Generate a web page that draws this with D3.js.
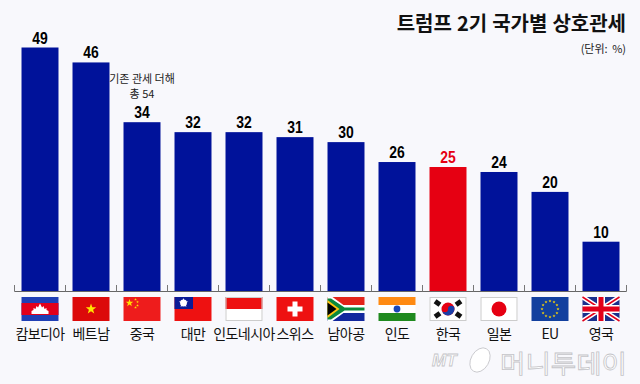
<!DOCTYPE html>
<html>
<head>
<meta charset="utf-8">
<script src="https://cdn.jsdelivr.net/npm/d3@7"></script>
<style>
  html, body { margin: 0; padding: 0; background: #f8f8fc; }
  svg { display: block; }
  text { font-family: "Noto Sans CJK KR", sans-serif; }
</style>
</head>
<body>
<div id="chart"></div>
<script>
// values
var countries = ["캄보디아", "베트남", "중국", "대만", "인도네시아", "스위스", "남아공", "인도", "한국", "일본", "EU", "영국"];
var tariffs = [49, 46, 34, 32, 32, 31, 30, 26, 25, 24, 20, 10];
var flagIds = ["kh", "vn", "cn", "tw", "id", "ch", "za", "in", "kr", "jp", "eu", "gb"];
var highlight = "한국";

var svg = d3.select("#chart").append("svg")
  .attr("width", 640)
  .attr("height", 384);

// scales
var x = d3.scaleBand()
  .domain(countries)
  .range([14.5, 626.5])
  .paddingInner(0.275)
  .paddingOuter(0.1375);
var y = d3.scaleLinear()
  .domain([0, 49])
  .range([291.5, 47.5]);

// Bars
svg.selectAll("rect.bar")
  .data(tariffs)
  .enter()
  .append("rect")
  .attr("class", "bar")
  .attr("x", function (d, i) { return x(countries[i]); })
  .attr("y", function (d) { return y(d); })
  .attr("width", x.bandwidth())
  .attr("height", function (d) { return y(0) - y(d); })
  .attr("fill", function (d, i) { return countries[i] == highlight ? "#e60012" : "#00129a"; });

// Axis with ticks between the bands
var step = x.step();
var axisTicks = d3.range(countries.length + 1).map(function (i) { return 14.5 + i * step; });
svg.append("line")
  .attr("x1", 14.5).attr("x2", 626.5)
  .attr("y1", 291.5).attr("y2", 291.5)
  .attr("stroke", "#666");
svg.selectAll("line.tick")
  .data(axisTicks)
  .enter()
  .append("line")
  .attr("class", "tick")
  .attr("x1", function (d) { return d; })
  .attr("x2", function (d) { return d; })
  .attr("y1", 285)
  .attr("y2", 291.5)
  .attr("stroke", "#777");

// Value labels
svg.selectAll("text.value")
  .data(tariffs)
  .enter()
  .append("text")
  .attr("class", "value")
  .attr("x", function (d, i) { return x(countries[i]) + x.bandwidth() / 2; })
  .attr("y", function (d) { return y(d) - 4; })
  .attr("text-anchor", "middle")
  .attr("textLength", 15.5)
  .attr("lengthAdjust", "spacingAndGlyphs")
  .style("font-family", "'Liberation Sans', sans-serif")
  .style("font-size", "17px")
  .style("font-weight", "bold")
  .attr("fill", function (d, i) { return countries[i] == highlight ? "#e60012" : "#000"; })
  .text(function (d) { return d; });

// Country labels
svg.selectAll("text.country")
  .data(countries)
  .enter()
  .append("text")
  .attr("class", "country")
  .attr("x", function (d) { return x(d) + x.bandwidth() / 2; })
  .attr("y", 338.5)
  .attr("text-anchor", "middle")
  .style("font-size", "14px")
  .style("letter-spacing", "-0.6px")
  .attr("fill", "#111")
  .text(function (d) { return d; });

// Flags
var fw = x.bandwidth(), fh = 24;
var flags = svg.selectAll("g.flag")
  .data(flagIds)
  .enter()
  .append("g")
  .attr("class", "flag")
  .attr("transform", function (d, i) { return "translate(" + x(countries[i]) + ",297)"; });

function box(g, yy, h, c) {
  g.append("rect").attr("x", 0).attr("y", yy).attr("width", fw).attr("height", h).attr("fill", c);
}
function star(g, cx, cy, r, c) {
  var pts = d3.range(10).map(function (i) {
    var rr = i % 2 ? r * 0.4 : r, a = -Math.PI / 2 + i * Math.PI / 5;
    return [cx + rr * Math.cos(a), cy + rr * Math.sin(a)].join(",");
  });
  g.append("polygon").attr("points", pts.join(" ")).attr("fill", c);
}
function outline(g) {
  g.append("rect").attr("x", 0.5).attr("y", 0.5).attr("width", fw - 1).attr("height", fh - 1).attr("fill", "none").attr("stroke", "#ccc");
}

var drawFlag = {
  kh: function (g) {
    box(g, 0, fh, "#1f3fb5");
    box(g, 6, 12, "#e2001a");
    g.append("path").attr("d", "M10 17V14L12 13V11L14 12L15 9L16.5 10.5L18.5 6.5L20.5 10.5L22 9L23 12L25 11V13L27 14V17Z").attr("fill", "#fff");
  },
  vn: function (g) {
    box(g, 0, fh, "#dc0a0a");
    star(g, 18.5, 12, 5.5, "#ffe600");
  },
  cn: function (g) {
    box(g, 0, fh, "#ee1c1c");
    star(g, 6, 6, 4, "#ffe000");
    [[12, 2.5], [14, 5], [14, 8.5], [12, 10.5]].forEach(function (p) { star(g, p[0], p[1], 1.4, "#ffe000"); });
  },
  tw: function (g) {
    box(g, 0, fh, "#ee1111");
    g.append("rect").attr("width", 18.5).attr("height", 12).attr("fill", "#0a1a96");
    star(g, 9, 6, 5, "#fff");
    g.append("circle").attr("cx", 9).attr("cy", 6).attr("r", 3.4).attr("fill", "#fff");
  },
  id: function (g) {
    box(g, 0, fh / 2, "#ee1111");
    box(g, fh / 2, fh / 2, "#fff");
    outline(g);
  },
  ch: function (g) {
    box(g, 0, fh, "#ee1111");
    g.append("rect").attr("x", fw / 2 - 7.5).attr("y", 9.5).attr("width", 15).attr("height", 5).attr("fill", "#fff");
    g.append("rect").attr("x", fw / 2 - 2.5).attr("y", 4.5).attr("width", 5).attr("height", 15).attr("fill", "#fff");
  },
  za: function (g) {
    box(g, 0, 8, "#e2231a");
    box(g, 8, 8, "#fff");
    box(g, 16, 8, "#12279e");
    g.append("path").attr("d", "M0 0H5L18 9.5H" + fw + "V14.5H18L5 24H0Z").attr("fill", "#fff");
    g.append("path").attr("d", "M0 1.5H3.5L17 10.5H" + fw + "V13.5H17L3.5 22.5H0Z").attr("fill", "#0a8a3c");
    g.append("path").attr("d", "M0 3L12 12L0 21Z").attr("fill", "#ffc20e");
    g.append("path").attr("d", "M0 5.5L9 12L0 18.5Z").attr("fill", "#000");
  },
  in: function (g) {
    box(g, 0, 8, "#ff8a12");
    box(g, 8, 8, "#fff");
    box(g, 16, 8, "#1f8a1f");
    g.append("circle").attr("cx", fw / 2).attr("cy", 12).attr("r", 3.4).attr("fill", "#1a46b8");
  },
  kr: function (g) {
    box(g, 0, fh, "#fff");
    outline(g);
    g.append("circle").attr("cx", fw / 2).attr("cy", 12).attr("r", 6.5).attr("fill", "#e60012");
    g.append("path").attr("d", "M" + (fw / 2 - 6.5) + " 12A6.5 6.5 0 0 0 " + (fw / 2 + 6.5) + " 12A3.25 3.25 0 0 0 " + fw / 2 + " 12A3.25 3.25 0 0 1 " + (fw / 2 - 6.5) + " 12Z").attr("fill", "#1a3ea8");
    [[8, 6, 35], [29, 6, -35], [8, 18, -35], [29, 18, 35]].forEach(function (p) {
      g.append("rect").attr("x", p[0] - 3).attr("y", p[1] - 2.5).attr("width", 6).attr("height", 5)
        .attr("transform", "rotate(" + p[2] + "," + p[0] + "," + p[1] + ")").attr("fill", "#111");
    });
  },
  jp: function (g) {
    box(g, 0, fh, "#fff");
    outline(g);
    g.append("circle").attr("cx", fw / 2).attr("cy", 12).attr("r", 7.5).attr("fill", "#e60012");
  },
  eu: function (g) {
    box(g, 0, fh, "#12409e");
    d3.range(12).forEach(function (i) {
      var a = i * Math.PI / 6;
      star(g, fw / 2 + 8 * Math.cos(a), 12 + 8 * Math.sin(a), 1.6, "#ffd800");
    });
  },
  gb: function (g) {
    box(g, 0, fh, "#1a2f8c");
    g.append("path").attr("d", "M0 0L" + fw + " " + fh + "M" + fw + " 0L0 " + fh).attr("stroke", "#fff").attr("stroke-width", 4.5);
    g.append("path").attr("d", "M0 0L" + fw + " " + fh + "M" + fw + " 0L0 " + fh).attr("stroke", "#e2001a").attr("stroke-width", 1.5);
    g.append("rect").attr("x", fw / 2 - 4).attr("width", 8).attr("height", fh).attr("fill", "#fff");
    g.append("rect").attr("y", 8).attr("width", fw).attr("height", 8).attr("fill", "#fff");
    g.append("rect").attr("x", fw / 2 - 2.5).attr("width", 5).attr("height", fh).attr("fill", "#e2001a");
    g.append("rect").attr("y", 9.5).attr("width", fw).attr("height", 5).attr("fill", "#e2001a");
  }
};
flags.each(function (d) { drawFlag[d](d3.select(this)); });

// Title
svg.append("text")
  .attr("x", 626).attr("y", 31)
  .attr("text-anchor", "end")
  .style("font-size", "20px")
  .style("font-weight", "bold")
  .style("word-spacing", "0.5px")
  .attr("fill", "#111")
  .text("트럼프 2기 국가별 상호관세");
svg.append("text")
  .attr("x", 626).attr("y", 53)
  .attr("text-anchor", "end")
  .style("font-size", "11px")
  .style("word-spacing", "2px")
  .attr("fill", "#222")
  .text("(단위: %)");

// China note
svg.append("text")
  .attr("x", 142).attr("y", 83)
  .attr("text-anchor", "middle")
  .style("font-size", "11px")
  .attr("fill", "#222")
  .text("기존 관세 더해");
svg.append("text")
  .attr("x", 142).attr("y", 98)
  .attr("text-anchor", "middle")
  .style("font-size", "11px")
  .attr("fill", "#222")
  .text("총 54");

// Watermark
var wm = svg.append("g").attr("fill", "#fff").attr("stroke", "#c4c4c8").attr("stroke-width", 0.8);
wm.append("text")
  .attr("x", 432).attr("y", 366)
  .style("font-family", "'Liberation Sans', sans-serif")
  .style("font-size", "17px")
  .style("font-style", "italic")
  .style("font-weight", "bold")
  .text("MT");
wm.append("ellipse")
  .attr("cx", 480).attr("cy", 360).attr("rx", 9).attr("ry", 13)
  .attr("transform", "rotate(30,480,360)");
wm.append("text")
  .attr("x", 500).attr("y", 373)
  .attr("textLength", 127)
  .attr("lengthAdjust", "spacingAndGlyphs")
  .style("font-size", "25px")
  .text("머니투데이");
</script>
</body>
</html>
